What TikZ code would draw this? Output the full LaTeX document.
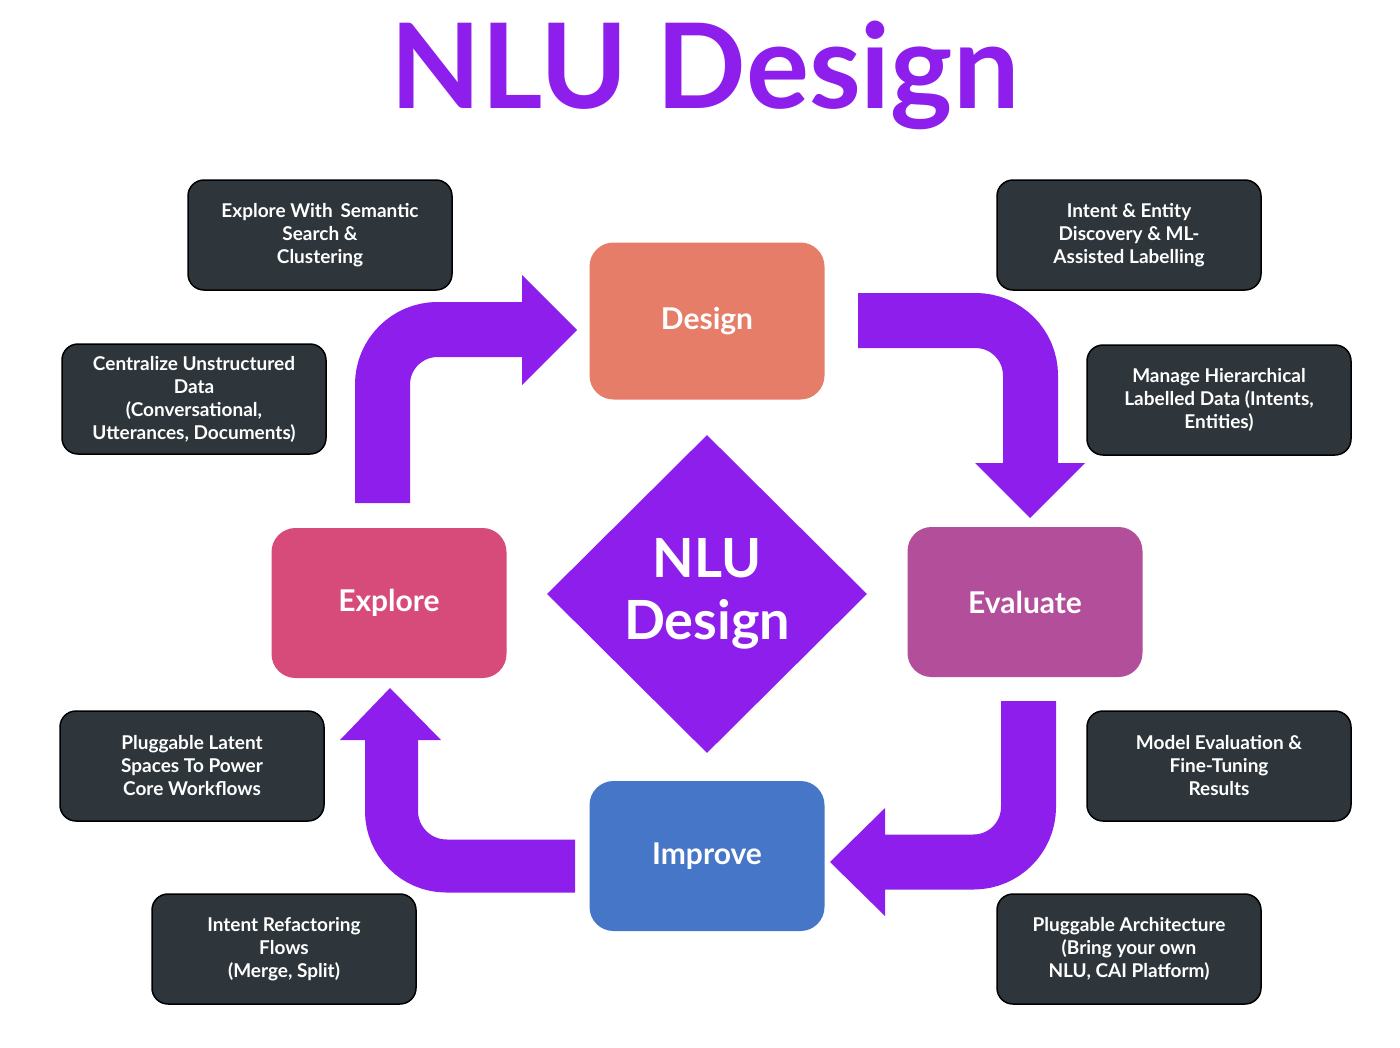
\documentclass[tikz,border=0pt]{standalone}
\usepackage{fontspec}
\setmainfont{Lato}
\usetikzlibrary{shapes.geometric}
\definecolor{dark}{HTML}{2E363B}
\definecolor{purp}{HTML}{8E1EEB}
\definecolor{cdes}{HTML}{E57D69}
\definecolor{ceva}{HTML}{B34E9B}
\definecolor{cexp}{HTML}{D64B7A}
\definecolor{cimp}{HTML}{4676C8}
\begin{document}
\begin{tikzpicture}[x=1pt,y=-1pt,
  info/.style={draw=black,line width=1.5pt,fill=dark,rounded corners=16pt,minimum width=264pt,minimum height=110pt,text=white,align=center,font=\bfseries\fontsize{19}{23}\selectfont},
  stage/.style={rounded corners=24pt,minimum width=235pt,minimum height=152pt,text=white,font=\bfseries\fontsize{30}{34}\selectfont},
  band/.style={draw=purp,line width=55pt,rounded corners=55pt},
  head/.style={fill=purp}]
\useasboundingbox (0,0) rectangle (1400,1047);
\node[text=purp,font=\bfseries\fontsize{118}{120}\selectfont] (title) at (705,75) {NLU Design};
\node[info] (b1) at (320,235) {Explore With\, Semantic\\Search \&\\Clustering};
\node[info] (b2) at (1129,235) {Intent \& Entity\\Discovery \& ML-\\Assisted Labelling};
\node[info] (b3) at (194,399) {Centralize Unstructured\\Data\\(Conversational,\\Utterances, Documents)};
\node[info] (b4) at (1219,400) {Manage Hierarchical\\Labelled Data (Intents,\\Entities)};
\node[info] (b5) at (192,766) {Pluggable Latent\\Spaces To Power\\Core Workflows};
\node[info] (b6) at (1219,766) {Model Evaluation \&\\Fine-Tuning\\Results};
\node[info] (b7) at (284,949) {Intent Refactoring\\Flows\\(Merge, Split)};
\node[info] (b8) at (1129,949) {Pluggable Architecture\\(Bring your own\\NLU, CAI Platform)};
\node[stage,fill=cdes,minimum height=157pt] (des) at (707,321) {Design};
\node[stage,fill=ceva,minimum height=150pt] (eva) at (1025,602) {Evaluate};
\node[stage,fill=cexp,minimum height=150pt] (exp) at (389,603) {Explore};
\node[stage,fill=cimp,minimum height=150pt] (imp) at (707,856) {Improve};
\node[diamond,fill=purp,minimum width=320pt,minimum height=318pt,inner sep=0pt,text=white,align=center,font=\bfseries\fontsize{54}{62}\selectfont] (dia) at (707,594) {NLU\\Design};
% arrows
\coordinate (a1s) at (382.5,503); \coordinate (a1c) at (382.5,329.5); \coordinate (a1e) at (523,329.5);
\draw[band] (a1s) -- (a1c) -- (a1e);
\fill[head] (522,275) -- (577,330) -- (522,385) -- cycle;
\coordinate (a2s) at (858,320.5); \coordinate (a2c) at (1030.5,320.5); \coordinate (a2e) at (1030.5,464);
\draw[band] (a2s) -- (a2c) -- (a2e);
\fill[head] (975,463) -- (1085,463) -- (1030,518) -- cycle;
\coordinate (a3s) at (1028.5,701); \coordinate (a3c) at (1028.5,862); \coordinate (a3e) at (884,862);
\draw[band] (a3s) -- (a3c) -- (a3e);
\fill[head] (885,808) -- (885,916) -- (830,862) -- cycle;
\coordinate (a4s) at (575,866); \coordinate (a4c) at (391.5,866); \coordinate (a4e) at (391.5,739);
\draw[band,line width=53pt] (a4s) -- (a4c) -- (a4e);
\fill[head] (340,740) -- (441,740) -- (390,688) -- cycle;
\end{tikzpicture}
\end{document}
